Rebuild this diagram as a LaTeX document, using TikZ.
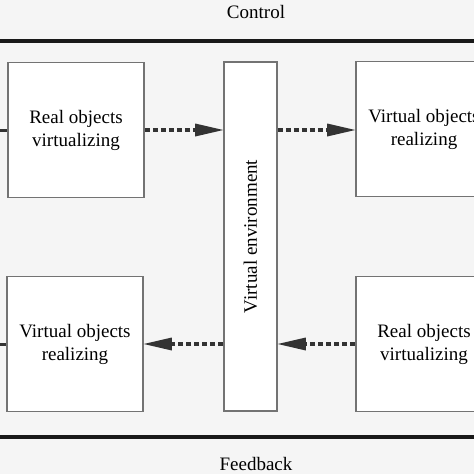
\documentclass[tikz,border=0pt]{standalone}
\usepackage{fontspec}
\setmainfont{Liberation Serif}
\usetikzlibrary{arrows.meta,positioning,calc}

\begin{document}
\begin{tikzpicture}[x=1pt,y=-1pt,
    obj/.style={draw=black!55,line width=1.6pt,fill=white,minimum width=136pt,minimum height=135pt,align=center,inner sep=0pt},
    flow/.style={draw=black!80,line width=4pt,dash pattern=on 5pt off 3pt,-{Triangle[length=28pt,width=13pt,line width=0pt]}},
    bus/.style={line width=4pt,black!90},
    stub/.style={line width=3pt,black!80}]
    \useasboundingbox[fill=black!4] (0,0) rectangle (474,474);
    \node[font=\fontsize{19}{23}\selectfont] (ctl) at (256,12) {Control};
    \node[font=\fontsize{19}{23}\selectfont] (fb) at (256,464) {Feedback};
    \coordinate (tl) at (0,41);
    \coordinate (tr) at (474,41);
    \coordinate (bl) at (0,437);
    \coordinate (br) at (474,437);
    \draw[bus] (tl)--(tr);
    \draw[bus] (bl)--(br);
    \node[obj,font=\fontsize{19}{23}\selectfont] (rv1) at (76,130) {Real objects\\virtualizing};
    \node[obj,font=\fontsize{19}{23}\selectfont] (vr1) at (424,129) {Virtual objects\\realizing};
    \node[obj,font=\fontsize{19}{23}\selectfont] (vr2) at (75,344) {Virtual objects\\realizing};
    \node[obj,font=\fontsize{19}{23}\selectfont] (rv2) at (424,344) {Real objects\\virtualizing};
    \node[obj,minimum width=53pt,minimum height=349pt] (ve) at (250.5,236.5) {};
    \node[rotate=90,font=\fontsize{19}{23}\selectfont] (vel) at (ve.center) {Virtual environment};
    \coordinate (s1) at (0,130);
    \coordinate (s2) at (0,344);
    \draw[stub] (s1)--(rv1.west);
    \draw[stub] (s2)--(vr2.west);
    \draw[flow] (rv1.east)--(rv1.east -| ve.west);
    \draw[flow] (rv1.east -| ve.east)--(vr1.west |- rv1.east);
    \draw[flow] (ve.west |- vr2.east)--(vr2.east);
    \draw[flow] (rv2.west)--(rv2.west -| ve.east);
  \end{tikzpicture}
\end{document}
